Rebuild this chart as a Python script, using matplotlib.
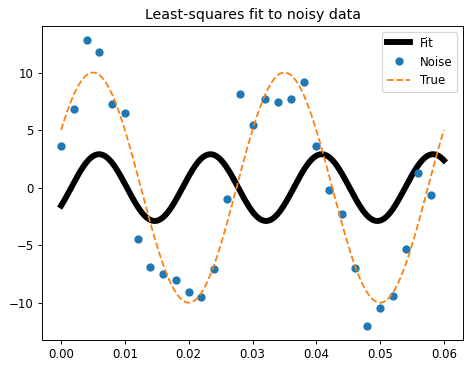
import numpy as np
import matplotlib.pyplot as plt

# measured (noisy) samples
x_meas = [0.000, 0.002, 0.004, 0.006, 0.008, 0.010, 0.012, 0.014, 0.016, 0.018,
          0.020, 0.022, 0.024, 0.026, 0.028, 0.030, 0.032, 0.034, 0.036, 0.038,
          0.040, 0.042, 0.044, 0.046, 0.048, 0.050, 0.052, 0.054, 0.056, 0.058]
y_meas = [3.6, 6.8, 12.8, 11.8, 7.3, 6.5, -4.5, -6.9, -7.5, -8.0,
          -9.1, -9.5, -7.1, -1.0, 8.1, 5.4, 7.7, 7.4, 7.7, 9.2,
          3.6, -0.2, -2.3, -7.0, -12.0, -10.5, -9.4, -5.3, 1.3, -0.6]

# sine parameters: amplitude, frequency, phase
true_params = [10.0, 1 / 0.03, np.pi / 6]
fit_params = [2.9, 57.3, -0.57]


def peval(x, p):
    return p[0] * np.sin(2 * np.pi * p[1] * x + p[2])


dpi = 85
fig = plt.figure(figsize=(474 / dpi, 369 / dpi), dpi=dpi)
ax = fig.add_axes([42 / 474, 1 - 340 / 369, 421 / 474, 314 / 369])

xx = np.linspace(0, 0.06, 400)
ax.plot(xx, peval(xx, fit_params), color="black", lw=5, label="Fit")
ax.plot(x_meas, y_meas, "o", color="#1f77b4", label="Noise")
ax.plot(xx, peval(xx, true_params), "--", color="#ff7f0e", label="True")

ax.set_title("Least-squares fit to noisy data")
ax.legend(loc="upper right")

fig.savefig("out.png", dpi=dpi)
